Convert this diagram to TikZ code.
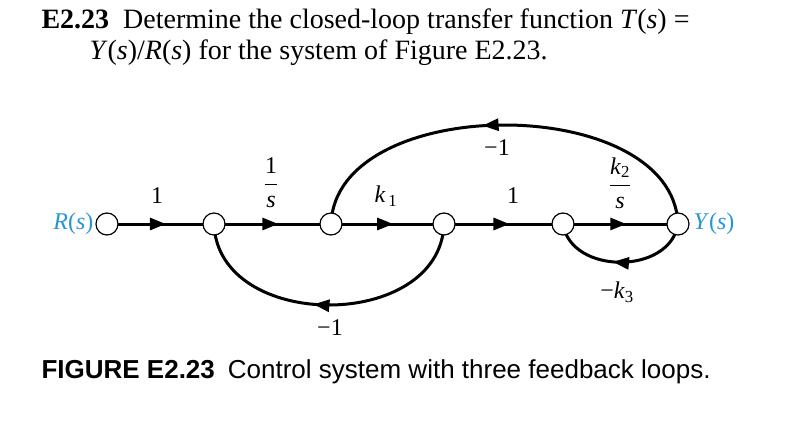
\documentclass[tikz,border=0pt]{standalone}
\usepackage{fontspec}
\setmainfont{Liberation Serif}
\newfontfamily\capfont{Liberation Sans}
\usetikzlibrary{arrows.meta,decorations.markings}
\definecolor{lblue}{RGB}{40,150,210}
\newcommand{\iv}[1]{\textit{#1}}
\newcommand{\fr}[2]{$\displaystyle\frac{\mbox{#1}}{\mbox{#2}}$}
\tikzset{
  sgnode/.style={circle,draw,line width=1.2pt,fill=white,minimum size=22pt,inner sep=0pt},
  branch/.style={line width=3pt,postaction={decorate},decoration={markings,mark=at position 0.55 with {\arrow{Triangle[length=16pt,width=12pt]}}}},
  lbl/.style={font=\fontsize{24}{28}\selectfont}
}
\begin{document}
\begin{tikzpicture}[x=1pt,y=-1pt]
\useasboundingbox (0,0) rectangle (812,428);
\node[anchor=west,font=\fontsize{28}{32}\selectfont] (t1) at (38,22) {\textbf{E2.23}\enspace Determine the closed-loop transfer function \iv{T}(\iv{s}) =};
\node[anchor=west,font=\fontsize{28}{32}\selectfont] (t2) at (86,53) {\iv{Y}(\iv{s})/\iv{R}(\iv{s}) for the system of Figure E2.23.};
\coordinate (c1) at (107,224);
\coordinate (c2) at (214,224);
\coordinate (c3) at (331,224);
\coordinate (c4) at (444,224);
\coordinate (c5) at (563,224);
\coordinate (c6) at (678,224);
\draw[branch] (c1) -- (c2);
\draw[branch] (c2) -- (c3);
\draw[branch] (c3) -- (c4);
\draw[branch] (c4) -- (c5);
\draw[branch] (c5) -- (c6);
\draw[branch] (c6) .. controls (673,92) and (336,92) .. (c3);
\draw[branch] (c4) .. controls (440,332) and (218,332) .. (c2);
\draw[branch] (c6) .. controls (670,275) and (571,275) .. (c5);
\foreach \n in {1,...,6} \node[sgnode] (n\n) at (c\n) {};
\node[lbl,text=lblue,anchor=east] (r) at (97,224) {\iv{R}(\iv{s})};
\node[lbl,text=lblue,anchor=west] (y) at (690,224) {\iv{Y}(\iv{s})};
\node[lbl] (l1) at (157,196) {1};
\node[lbl] (l2) at (271,183) {\fr{1}{\iv{s}}};
\node[lbl] (l3) at (386,196) {\iv{k}\textsubscript{\,1}};
\node[lbl] (l4) at (513,196) {1};
\node[lbl] (l5) at (620,183) {\fr{\iv{k}\textsubscript{2}}{\iv{s}}};
\node[lbl] (l6) at (497,148) {\textminus1};
\node[lbl] (l7) at (617,292) {\textminus\iv{k}\textsubscript{3}};
\node[lbl] (l8) at (330,328) {\textminus1};
\node[anchor=west,font=\capfont\fontsize{26}{30}\selectfont] (cap) at (38,372) {\textbf{FIGURE E2.23}\enspace Control system with three feedback loops.};
\end{tikzpicture}
\end{document}
